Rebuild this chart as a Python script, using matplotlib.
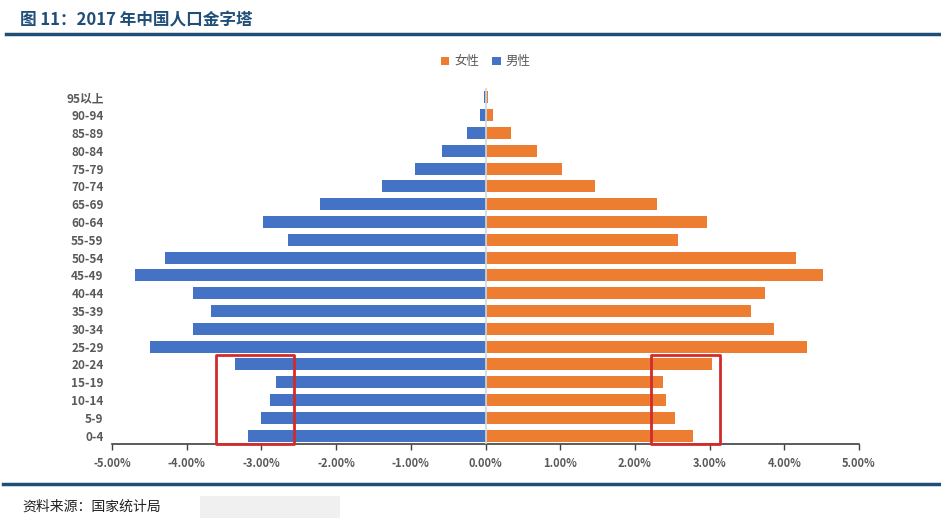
import matplotlib
matplotlib.use("Agg")
import matplotlib.pyplot as plt
from matplotlib.patches import Rectangle
from matplotlib.ticker import FuncFormatter
import numpy as np

plt.rcParams['font.family'] = ['Noto Sans CJK SC', 'DejaVu Sans']

age_groups = ['0-4', '5-9', '10-14', '15-19', '20-24', '25-29', '30-34', '35-39',
              '40-44', '45-49', '50-54', '55-59', '60-64', '65-69', '70-74',
              '75-79', '80-84', '85-89', '90-94', '95以上']
male = [-3.18, -3.01, -2.89, -2.80, -3.36, -4.49, -3.91, -3.67, -3.92, -4.69,
        -4.29, -2.65, -2.98, -2.22, -1.38, -0.94, -0.585, -0.245, -0.07, -0.015]
female = [2.78, 2.53, 2.42, 2.37, 3.03, 4.30, 3.86, 3.55, 3.74, 4.52,
          4.16, 2.58, 2.97, 2.29, 1.46, 1.02, 0.69, 0.335, 0.10, 0.035]
xticks = [-5, -4, -3, -2, -1, 0, 1, 2, 3, 4, 5]
# highlight boxes: (x0, x1) in %, spanning the youngest five groups
boxes = [(-3.61, -2.57), (2.22, 3.14)]

BLUE = '#4472C4'
ORANGE = '#ED7D31'
GRAY = '#595959'
DARK = '#1F4E79'

fig = plt.figure(figsize=(9.41, 5.22), dpi=100)
ax = fig.add_axes([0.119, 0.1485, 0.794, 0.682])

y = np.arange(len(age_groups))
ax.barh(y, female, height=0.68, color=ORANGE, label='女性', zorder=2)
ax.barh(y, male, height=0.68, color=BLUE, label='男性', zorder=2)

ax.set_xlim(-5, 5)
ax.set_ylim(-0.5, len(age_groups) - 0.5)
ax.set_xticks(xticks)
ax.xaxis.set_major_formatter(FuncFormatter(lambda v, p: f'{v:.2f}%'))
ax.set_yticks(y)
ax.set_yticklabels(age_groups)
for lab in ax.get_xticklabels():
    lab.set_fontweight('bold')
    lab.set_color(GRAY)
    lab.set_fontsize(8)
for lab in ax.get_yticklabels():
    lab.set_fontweight('bold')
    lab.set_color(GRAY)
    lab.set_fontsize(8.5)
ax.tick_params(axis='y', length=0, pad=6)
ax.tick_params(axis='x', length=4, width=1, color='#404040', direction='out', pad=5)

for s in ['top', 'right', 'left']:
    ax.spines[s].set_visible(False)
ax.spines['bottom'].set_color('#404040')
ax.spines['bottom'].set_linewidth(1.2)
ax.axvline(0, color='#D0D8E0', lw=1.2, zorder=3)

for x0, x1 in boxes:
    r = Rectangle((x0, -0.5), x1 - x0, 5.04, fill=False, edgecolor='#D22B2B',
                  lw=2.0, zorder=5, clip_on=False, joinstyle='round')
    ax.add_patch(r)

leg = ax.legend(loc='lower center', bbox_to_anchor=(0.5, 1.025), ncol=2, frameon=False,
                fontsize=9, handlelength=0.7, handleheight=0.7, handletextpad=0.4,
                columnspacing=1.0)
for t in leg.get_texts():
    t.set_color(GRAY)

# header and footer
fig.text(20 / 941, 1 - 20 / 522, '图 11：2017 年中国人口金字塔', fontsize=12, fontweight='bold',
         color=DARK, va='center', ha='left')
fig.add_artist(plt.Line2D([6 / 941, 1], [1 - 34 / 522, 1 - 34 / 522], color=DARK, lw=2.5))
fig.add_artist(plt.Line2D([3 / 941, 1], [1 - 484 / 522, 1 - 484 / 522], color=DARK, lw=2.5))
fig.text(22 / 941, 1 - 507 / 522, '资料来源：国家统计局', fontsize=10, color='#222222',
         va='center', ha='left')
fig.patches.append(Rectangle((200 / 941, 1 - 518 / 522), 140 / 941, 22 / 522,
                             transform=fig.transFigure, facecolor='#EDEDED',
                             edgecolor='none', alpha=0.8))

fig.savefig('out.png', dpi=100)
